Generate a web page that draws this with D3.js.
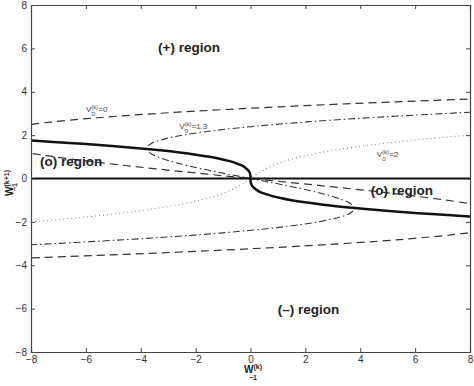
<!DOCTYPE html>
<html>
<head>
<meta charset="utf-8">
<script src="https://cdn.jsdelivr.net/npm/d3@7"></script>
<style>
  body { margin: 0; background: #fff; }
  text { font-family: "Liberation Sans", Arial, sans-serif; }
</style>
</head>
<body>
<div id="chart"></div>
<script>
// curves as [x, y] pairs
const thickCurve = [
  [-8, 1.75], [-7.33, 1.7], [-6.11, 1.6], [-5.04, 1.5], [-4.1, 1.4], [-3.28, 1.3], [-2.58, 1.2],
  [-1.99, 1.1], [-1.49, 1.0], [-1.09, 0.9], [-0.76, 0.8], [-0.51, 0.7], [-0.32, 0.6], [-0.19, 0.5],
  [-0.1, 0.4], [-0.04, 0.3], [-0.012, 0.2], [-0.002, 0.1], [0, 0],
  [0.002, -0.1], [0.012, -0.2], [0.04, -0.3], [0.1, -0.4], [0.19, -0.5], [0.32, -0.6], [0.51, -0.7],
  [0.76, -0.8], [1.09, -0.9], [1.49, -1.0], [1.99, -1.1], [2.58, -1.2], [3.28, -1.3], [4.1, -1.4],
  [5.04, -1.5], [6.11, -1.6], [7.33, -1.7], [8, -1.75]
];
const v0Upper = [[-7.99, 2.5], [-7.31, 2.6], [-5.6, 2.8], [-3.38, 3.0], [-0.63, 3.2], [2.71, 3.4], [6.66, 3.6], [7.97, 3.66]];
const v0Middle = [
  [-7.94, 1.15], [-7.14, 1.0], [-5.93, 0.8], [-4.57, 0.6], [-3.11, 0.4], [-1.57, 0.2], [0, 0],
  [1.57, -0.2], [3.11, -0.4], [4.57, -0.6], [5.93, -0.8], [7.14, -1.0], [7.94, -1.15]
];
const v0Lower = [[-7.97, -3.66], [-6.66, -3.6], [-2.71, -3.4], [0.63, -3.2], [3.38, -3.0], [5.6, -2.8], [7.31, -2.6], [7.99, -2.5]];
const v13Curve = [
  [8.04, 3.06], [4.29, 2.8], [1.96, 2.6], [0.09, 2.4], [-1.38, 2.2], [-2.46, 2.0], [-3.2, 1.8],
  [-3.63, 1.6], [-3.78, 1.4], [-3.69, 1.2], [-3.39, 1.0], [-2.92, 0.8], [-2.31, 0.6], [-1.6, 0.4],
  [-0.82, 0.2], [0, 0], [0.82, -0.2], [1.6, -0.4], [2.31, -0.6], [2.92, -0.8], [3.39, -1.0],
  [3.69, -1.2], [3.78, -1.4], [3.63, -1.6], [3.2, -1.8], [2.46, -2.0], [1.38, -2.2], [-0.09, -2.4],
  [-1.96, -2.6], [-4.29, -2.8], [-8.04, -3.06]
];
const v2Curve = [
  [-7.99, -2.0], [-6.2, -1.8], [-4.73, -1.6], [-3.54, -1.4], [-2.58, -1.2], [-1.83, -1.0], [-1.26, -0.8],
  [-0.82, -0.6], [-0.49, -0.4], [-0.23, -0.2], [0, 0], [0.23, 0.2], [0.49, 0.4], [0.82, 0.6],
  [1.26, 0.8], [1.83, 1.0], [2.58, 1.2], [3.54, 1.4], [4.73, 1.6], [6.2, 1.8], [7.99, 2.0]
];
const ticks = [-8, -6, -4, -2, 0, 2, 4, 6, 8];
const regions = [
  { label: "(+) region", x: -3.37, y: 5.85 },
  { label: "(o) region", x: -7.67, y: 0.57 },
  { label: "(o) region", x: 4.38, y: -0.77 },
  { label: "(\u2013) region", x: 0.99, y: -6.27 }
];
const vLabels = [
  { val: "0", x: -6.0, y: 3.05 },
  { val: "1.3", x: -2.6, y: 2.3 },
  { val: "2", x: 4.6, y: 1.0 }
];

const width = 474, height = 386;
const margin = { top: 5, right: 4, bottom: 34, left: 31 };

const svg = d3.select("#chart").append("svg")
  .attr("width", width).attr("height", height);

const x = d3.scaleLinear().domain([-8, 8]).range([margin.left, width - margin.right]);
const y = d3.scaleLinear().domain([-8, 8]).range([height - margin.bottom, margin.top]);

svg.append("clipPath").attr("id", "clip")
  .append("rect")
  .attr("x", margin.left).attr("y", margin.top)
  .attr("width", width - margin.left - margin.right)
  .attr("height", height - margin.top - margin.bottom);

const line = d3.line().x(d => x(d[0])).y(d => y(d[1])).curve(d3.curveCatmullRom);
const plot = svg.append("g").attr("clip-path", "url(#clip)");

// dashed V=0
[v0Upper, v0Middle, v0Lower].forEach(c => {
  plot.append("path").attr("d", line(c))
    .attr("fill", "none").attr("stroke", "#333").attr("stroke-width", 1.2)
    .attr("stroke-dasharray", "8,5");
});
// dash-dot V=1.3
plot.append("path").attr("d", line(v13Curve))
  .attr("fill", "none").attr("stroke", "#333").attr("stroke-width", 1.1)
  .attr("stroke-dasharray", "7,3,1.5,3");
// dotted V=2
plot.append("path").attr("d", line(v2Curve))
  .attr("fill", "none").attr("stroke", "#888").attr("stroke-width", 1.1)
  .attr("stroke-dasharray", "1,3");
// zero line and thick curve
plot.append("path").attr("d", line([[-8, 0], [8, 0]]))
  .attr("fill", "none").attr("stroke", "#111").attr("stroke-width", 2.2);
plot.append("path").attr("d", line(thickCurve))
  .attr("fill", "none").attr("stroke", "#111").attr("stroke-width", 2.5);

// axes with inward ticks
const fmt = d3.format("");
svg.append("g").attr("transform", `translate(0,${height - margin.bottom})`)
  .call(d3.axisBottom(x).tickValues(ticks).tickSize(-4).tickPadding(4).tickFormat(fmt));
svg.append("g").attr("transform", `translate(0,${margin.top})`)
  .call(d3.axisTop(x).tickValues(ticks).tickSize(-4).tickFormat(""));
svg.append("g").attr("transform", `translate(${margin.left},0)`)
  .call(d3.axisLeft(y).tickValues(ticks).tickSize(-4).tickPadding(4).tickFormat(fmt));
svg.append("g").attr("transform", `translate(${width - margin.right},0)`)
  .call(d3.axisRight(y).tickValues(ticks).tickSize(-4).tickFormat(""));

svg.selectAll(".domain").attr("stroke", "#444").attr("stroke-width", 1.2);
svg.selectAll(".tick line").attr("stroke", "#444");
svg.selectAll(".tick text").attr("font-size", 10).attr("fill", "#333")
  .attr("font-family", "Liberation Sans, Arial, sans-serif");

// region labels
svg.selectAll(".region").data(regions).enter().append("text")
  .attr("x", d => x(d.x)).attr("y", d => y(d.y))
  .attr("font-size", 13.5).attr("font-weight", "bold").attr("fill", "#222")
  .text(d => d.label);

// V0 labels
vLabels.forEach(d => {
  const t = svg.append("text").attr("x", x(d.x)).attr("y", y(d.y))
    .attr("font-size", 8).attr("fill", "#444");
  t.append("tspan").text("V");
  t.append("tspan").attr("font-size", 6).attr("dy", -3).text("(k)");
  t.append("tspan").attr("font-size", 8).attr("dy", 3).text("=" + d.val);
  svg.append("text").attr("x", x(d.x) + 5.5).attr("y", y(d.y) + 4)
    .attr("font-size", 6).attr("fill", "#444").text("0");
});

// axis titles
const xt = svg.append("text").attr("x", 244).attr("y", 373)
  .attr("font-size", 10).attr("font-weight", "bold").attr("fill", "#222");
xt.append("tspan").text("W");
xt.append("tspan").attr("font-size", 7).attr("dy", -4).text("(k)");
svg.append("text").attr("x", 249).attr("y", 380)
  .attr("font-size", 7).attr("font-weight", "bold").attr("fill", "#222").text("\u22121");

const yt = svg.append("g").attr("transform", "translate(13,196) rotate(-90)");
const ytt = yt.append("text").attr("x", 0).attr("y", 0)
  .attr("font-size", 10).attr("font-weight", "bold").attr("fill", "#222");
ytt.append("tspan").text("W");
ytt.append("tspan").attr("font-size", 7).attr("dy", -4).text("(k+1)");
yt.append("text").attr("x", 5).attr("y", 4)
  .attr("font-size", 7).attr("font-weight", "bold").attr("fill", "#222").text("\u22121");
</script>
</body>
</html>
